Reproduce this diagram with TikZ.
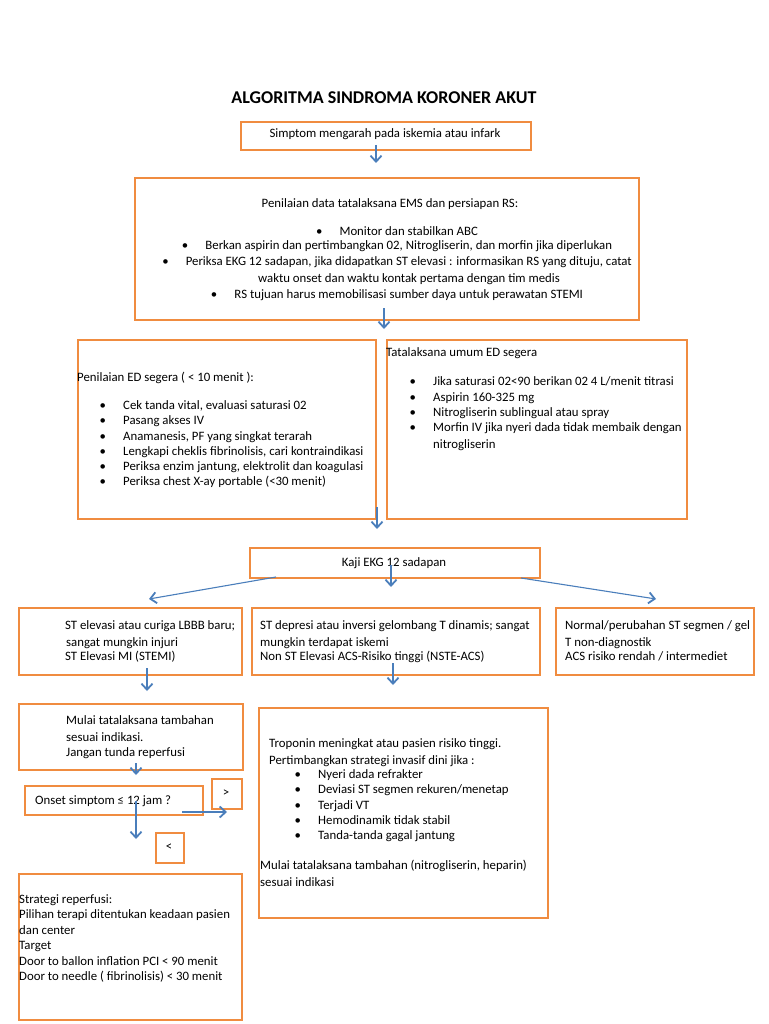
\documentclass[tikz,border=0pt]{standalone}
\usepackage{fontspec}
\setmainfont{Carlito}
\usetikzlibrary{arrows.meta, positioning, calc}
\definecolor{boxorange}{RGB}{240,140,64}
\definecolor{flowblue}{RGB}{74,126,187}
\tikzset{
  box/.style={
    rectangle, draw=boxorange, line width=2.4pt, inner sep=0pt, anchor=north west
  },
  txt/.style={inner sep=0pt, anchor=west, font=\fontsize{12.8}{14}\selectfont,
    text height=9pt, text depth=2pt},
  ctxt/.style={txt, anchor=center},
  flow/.style={draw=flowblue, line width=1.1pt,
    -{Straight Barb[length=6pt, width=11pt, line width=1.8pt]}},
  judul/.style={font=\fontsize{18}{20}\selectfont\bfseries, inner sep=0pt}
}
\newcommand{\bulitem}[1]{\makebox[23.5pt][l]{\textbullet}#1}

\begin{document}
\begin{tikzpicture}[x=1pt, y=-1pt]
    \useasboundingbox (0,0) rectangle (768,1024);
    \node[judul] (judul) at (384,98) {ALGORITMA SINDROMA KORONER AKUT};

    % kotak
    \node[box, minimum width=290pt, minimum height=28pt] (simptom) at (240,121) {};
    \node[box, minimum width=504pt, minimum height=142pt] (ems) at (134,177) {};
    \node[box, minimum width=298pt, minimum height=179pt] (ednilai) at (77,339) {};
    \node[box, minimum width=300pt, minimum height=179pt] (edumum) at (386,339) {};
    \node[box, minimum width=290pt, minimum height=30pt] (ekg) at (249,547) {};
    \node[box, minimum width=223pt, minimum height=67pt] (stemi) at (18,607) {};
    \node[box, minimum width=288pt, minimum height=67pt] (nste) at (251,607) {};
    \node[box, minimum width=198pt, minimum height=67pt] (normal) at (555,607) {};
    \node[box, minimum width=224pt, minimum height=66pt] (mulai) at (18,703) {};
    \node[box, minimum width=178pt, minimum height=29pt] (onset) at (24,785) {};
    \node[box, minimum width=30pt, minimum height=30pt] (lebih) at (211,778) {};
    \node[box, minimum width=28pt, minimum height=30pt] (kurang) at (155,832) {};
    \node[box, minimum width=289pt, minimum height=210pt] (troponin) at (258,707) {};
    \node[box, minimum width=223pt, minimum height=146pt] (reperfusi) at (18,873) {};

    % teks
    \node[ctxt] (t-simptom) at (385,134) {Simptom mengarah pada iskemia atau infark};
    \node[ctxt] (t-ems) at (390,204) {Penilaian data tatalaksana EMS dan persiapan RS:};
    \node[ctxt] (t-ems1) at (397,232) {\bulitem{Monitor dan stabilkan ABC}};
    \node[ctxt] (t-ems2) at (397,246) {\bulitem{Berkan aspirin dan pertimbangkan 02, Nitrogliserin, dan morfin jika diperlukan}};
    \node[ctxt] (t-ems3) at (397,262) {\bulitem{Periksa EKG 12 sadapan, jika didapatkan ST elevasi : informasikan RS yang dituju, catat}};
    \node[ctxt] (t-ems4) at (409,279) {waktu onset dan waktu kontak pertama dengan tim medis};
    \node[ctxt] (t-ems5) at (397,295) {\bulitem{RS tujuan harus memobilisasi sumber daya untuk perawatan STEMI}};

    \node[txt] (t-ednilai) at (77,378) {Penilaian ED segera ( < 10 menit ):};
    \foreach \t [count=\i] in {{Cek tanda vital, evaluasi saturasi 02}, Pasang akses IV,
        {Anamanesis, PF yang singkat terarah}, {Lengkapi cheklis fibrinolisis, cari kontraindikasi},
        {Periksa enzim jantung, elektrolit dan koagulasi}, Periksa chest X-ay portable (<30 menit)}
      \node[txt] (t-ednilai\i) at (99.5,{391+\i*15.2}) {\bulitem{\t}};

    \node[txt] (t-edumum) at (386,353) {Tatalaksana umum ED segera};
    \foreach \t [count=\i] in {Jika saturasi 02<90 berikan 02 4 L/menit titrasi, Aspirin 160-325 mg,
        Nitrogliserin sublingual atau spray, Morfin IV jika nyeri dada tidak membaik dengan}
      \node[txt] (t-edumum\i) at (409.5,{367+\i*15.3}) {\bulitem{\t}};
    \node[txt] (t-edumum5) at (433,445) {nitrogliserin};

    \node[ctxt] (t-ekg) at (394,563) {Kaji EKG 12 sadapan};

    \node[txt] (t-stemi1) at (65,626) {ST elevasi atau curiga LBBB baru;};
    \node[txt] (t-stemi2) at (66,643) {sangat mungkin injuri};
    \node[txt] (t-stemi3) at (65,657) {ST Elevasi MI (STEMI)};
    \node[txt] (t-nste1) at (260,626) {ST depresi atau inversi gelombang T dinamis; sangat};
    \node[txt] (t-nste2) at (260,643) {mungkin terdapat iskemi};
    \node[txt] (t-nste3) at (260,657) {Non ST Elevasi ACS-Risiko tinggi (NSTE-ACS)};
    \node[txt] (t-normal1) at (565,626) {Normal/perubahan ST segmen / gel};
    \node[txt] (t-normal2) at (565,643) {T non-diagnostik};
    \node[txt] (t-normal3) at (565,657) {ACS risiko rendah / intermediet};

    \node[txt] (t-mulai1) at (66,721) {Mulai tatalaksana tambahan};
    \node[txt] (t-mulai2) at (66,738) {sesuai indikasi.};
    \node[txt] (t-mulai3) at (66,753) {Jangan tunda reperfusi};
    \node[txt] (t-onset) at (35,801) {Onset simptom ≤ 12 jam ?};
    \node[ctxt] (t-lebih) at (226,793) {>};
    \node[ctxt] (t-kurang) at (169,847) {<};

    \node[txt] (t-trop1) at (269,744) {Troponin meningkat atau pasien risiko tinggi.};
    \node[txt] (t-trop2) at (269,761) {Pertimbangkan strategi invasif dini jika :};
    \foreach \t [count=\i] in {Nyeri dada refrakter, Deviasi ST segmen rekuren/menetap, Terjadi VT,
        Hemodinamik tidak stabil, Tanda-tanda gagal jantung}
      \node[txt] (t-trop\i b) at (294.5,{760+\i*15.2}) {\bulitem{\t}};
    \node[txt] (t-trop3) at (260,866) {Mulai tatalaksana tambahan (nitrogliserin, heparin)};
    \node[txt] (t-trop4) at (260,883) {sesuai indikasi};

    \foreach \t [count=\i] in {Strategi reperfusi:, Pilihan terapi ditentukan keadaan pasien,
        dan center, Target, Door to ballon inflation PCI < 90 menit,
        Door to needle ( fibrinolisis) < 30 menit}
      \node[txt] (t-rep\i) at (19,{884+\i*15.5}) {\t};

    % panah
    \coordinate (s1) at (376,145);  \coordinate (e1) at (376,163);
    \coordinate (s2) at (384,308);  \coordinate (e2) at (384,329);
    \coordinate (s3) at (377,507);  \coordinate (e3) at (377,529);
    \coordinate (s4) at (391,565);  \coordinate (e4) at (391,587);
    \coordinate (s5) at (276,577);  \coordinate (e5) at (149,599);
    \coordinate (s6) at (521,578);  \coordinate (e6) at (656,599);
    \coordinate (s7) at (147,668);  \coordinate (e7) at (147,691);
    \coordinate (s8) at (393,663);  \coordinate (e8) at (393,685);
    \coordinate (s9) at (136,763);  \coordinate (e9) at (136,775);
    \coordinate (s10) at (136,801); \coordinate (e10) at (136,839);
    \coordinate (s11) at (182,812); \coordinate (e11) at (227,812);
    \foreach \i in {1,...,11}
      \draw[flow] (s\i) -- (e\i);
\end{tikzpicture}
\end{document}
